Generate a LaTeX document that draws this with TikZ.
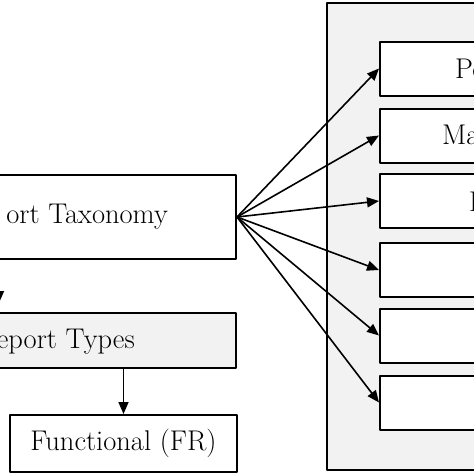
\documentclass[tikz,border=0pt]{standalone}
\usetikzlibrary{arrows.meta,positioning}
\definecolor{panelgray}{RGB}{242,242,242}
\tikzset{
	box/.style={draw, line width=2pt, fill=white, inner sep=0pt},
	graybox/.style={box, fill=panelgray},
	label/.style={inner sep=0pt, font=\fontsize{28.5}{32}\selectfont},
	arr/.style={line width=1.6pt, -{Triangle[length=12pt,width=10pt]}}
}
\begin{document}
\begin{tikzpicture}[x=1pt, y=-1pt, line join=round]
	\useasboundingbox (0,0) rectangle (474,474);
	\path
	(327,3) coordinate (P1)
	(520,470) coordinate (P2)
	(-1,303) coordinate (S);
	% right panel
	\draw[line width=2pt, fill=panelgray] (P1) rectangle (P2);
	% left boxes
	\node[box, minimum width=320pt, minimum height=84pt, anchor=east] (tax) at (237,217) {};
	\node[label, anchor=east] (taxtxt) at (168,217) {ort Taxonomy};
	\node[graybox, minimum width=320pt, minimum height=55pt, anchor=east] (types) at (237,340.5) {};
	\node[label, anchor=east] (typestxt) at (135,342) {eport Types};
	\node[box, label, minimum width=227pt, minimum height=57pt] (fr) at (123.5,443.5) {Functional (FR)};
	% right boxes
	\foreach \i/\y in {1/68.5,2/135.5,3/201,4/270,5/335.5,6/402.5}
		\node[box, minimum width=180pt, minimum height=54pt, anchor=west] (r\i) at (379,\y) {};
	\foreach \i/\x/\t in {1/455/Pe,2/442/Ma,3/469/I}
		\node[label, anchor=west] (rt\i) at (\x,\i*66.8+1.7) {\t};
	% arrows
	\foreach \i in {1,...,6} \draw[arr] (tax.east) -- (r\i.west);
	\draw[arr] (types.south -| fr.north) -- (fr.north);
	\draw[arr] (tax.south -| S) -- (S);
\end{tikzpicture}
\end{document}
